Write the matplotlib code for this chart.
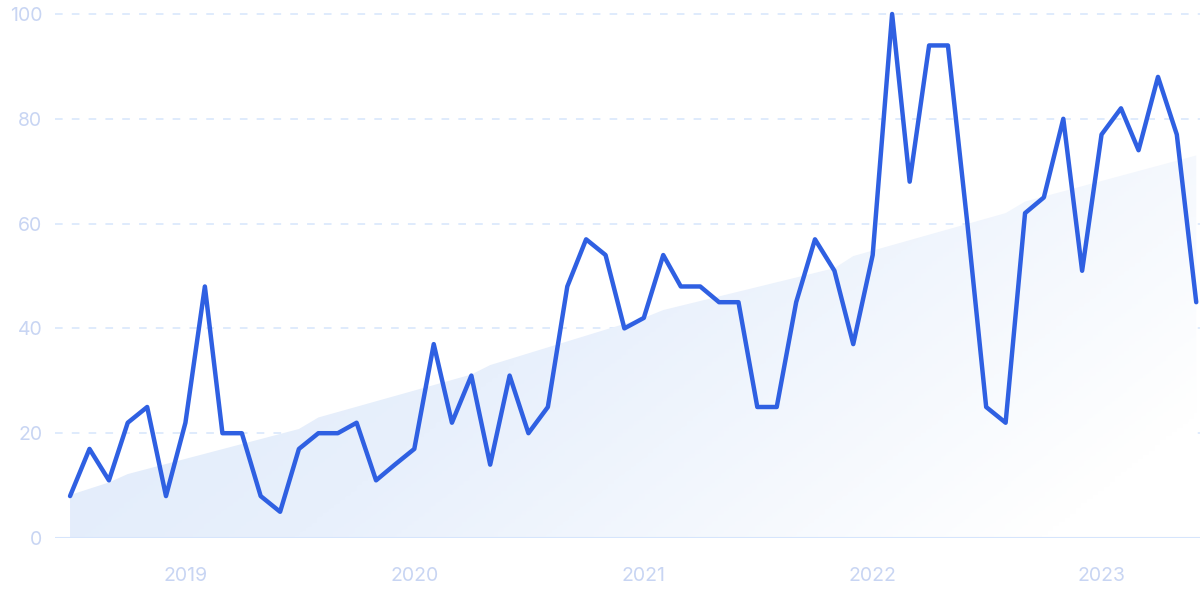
import numpy as np
import pandas as pd
import matplotlib
matplotlib.use("Agg")
import matplotlib.pyplot as plt
import matplotlib.dates as mdates
from matplotlib.colors import LinearSegmentedColormap

# monthly interest values, Jul 2018 - Jun 2023
months = pd.date_range("2018-07-01", periods=60, freq="MS")
values = [8, 17, 11, 22, 25, 8, 22, 48, 20, 20,
          8, 5, 17, 20, 20, 22, 11, 14, 17, 37,
          22, 31, 14, 31, 20, 25, 48, 57, 54, 40,
          42, 54, 48, 48, 45, 45, 25, 25, 45, 57,
          51, 37, 54, 100, 68, 94, 94, 60, 25, 22,
          62, 65, 80, 51, 77, 82, 74, 88, 77, 45]

# shaded trend: month index -> value at its bends
trend_idx = [0, 2, 3, 12, 13, 21, 22, 30, 31, 40, 41, 49, 50, 59]
trend_val = [8.2, 10.6, 12.2, 20.8, 23.0, 31.2, 33.0, 42.0, 43.5, 51.5, 53.8, 62.0, 64.2, 73.0]

yticks = [0, 20, 40, 60, 80, 100]
years = [2019, 2020, 2021, 2022, 2023]

line_color = "#2f60e2"
grid_color = "#d6e5fc"
label_color = "#c8d5f3"

plt.rcParams["font.family"] = ["Inter", "DejaVu Sans"]

fig = plt.figure(figsize=(12, 6), dpi=100)
ax = fig.add_axes([55 / 1200, 62 / 600, 1145 / 1200, 524 / 600])

x = mdates.date2num(months)
tx = x[trend_idx]
x0 = x[0] - 24
x1 = x[-1] + 6

# gradient-filled trend area, light blue at top left fading to white
poly = ax.fill_between(tx, 0, trend_val, color="none", lw=0)
cmap = LinearSegmentedColormap.from_list("fade", ["#dde9fb", "#e8f0fc", "#ffffff"])
gx, gy = np.meshgrid(np.linspace(0, 1, 200), np.linspace(0, 1, 200))
grad = np.clip(0.75 * gx + 0.35 * gy, 0, 1)
img = ax.imshow(grad, cmap=cmap, extent=[x[0], x[-1], 0, 80], origin="upper",
                aspect="auto", zorder=1)
img.set_clip_path(poly.get_paths()[0], transform=ax.transData)

# grid
for v in yticks[1:]:
    ax.axhline(v, color=grid_color, lw=1.1, ls=(0, (5, 6)), zorder=0, clip_on=False)
ax.axhline(0, color=grid_color, lw=1.5, zorder=2)

ax.plot(x, values, color=line_color, lw=3.2, solid_joinstyle="round",
        solid_capstyle="round", zorder=3, clip_on=False)

ax.set_xlim(x0, x1)
ax.set_ylim(0, 100)
ax.set_yticks(yticks)
ax.set_yticklabels([str(v) for v in yticks])
ax.set_xticks([mdates.date2num(pd.Timestamp(f"{y}-01-01")) for y in years])
ax.set_xticklabels([str(y) for y in years])
ax.tick_params(axis="both", length=0, labelsize=14, labelcolor=label_color)
ax.tick_params(axis="y", pad=9)
ax.tick_params(axis="x", pad=21)
for s in ax.spines.values():
    s.set_visible(False)

fig.savefig("out.png", dpi=100, facecolor="white")
